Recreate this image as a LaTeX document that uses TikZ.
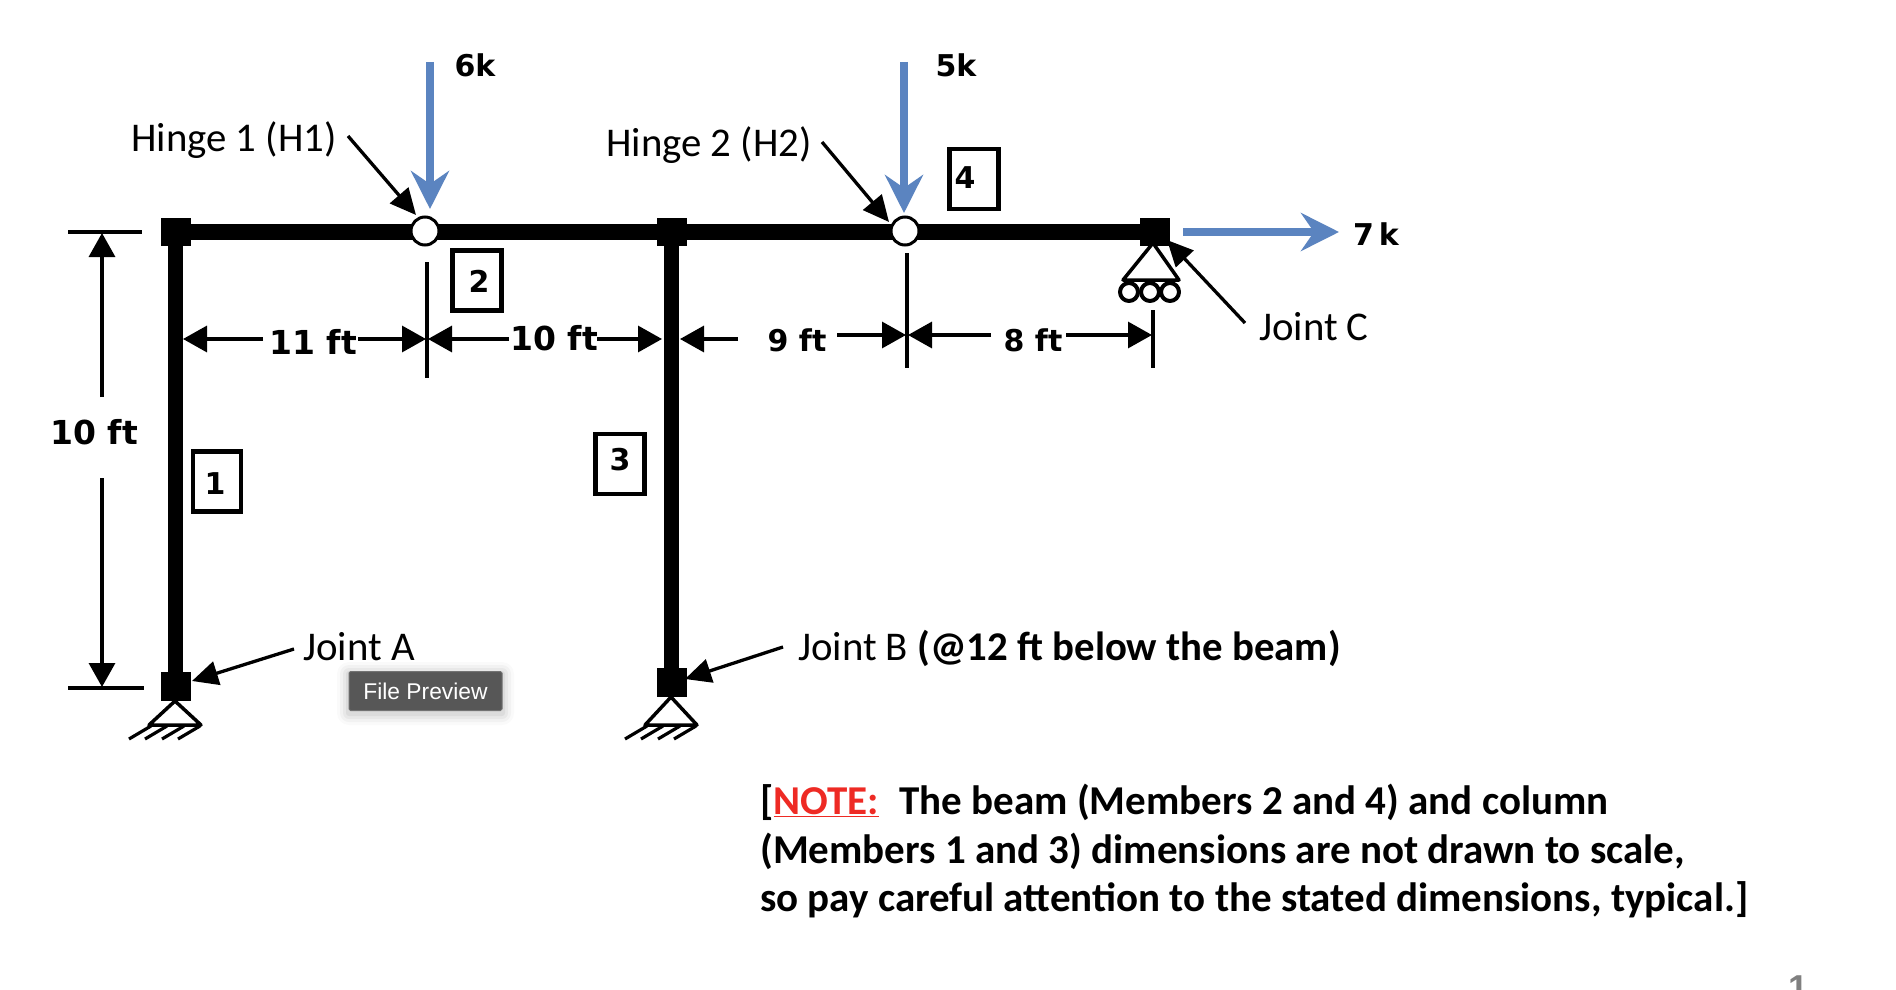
\documentclass[tikz,border=0pt]{standalone}
\usepackage{fontspec}
\setmainfont{Carlito}[Ligatures=TeX]
\newfontfamily\dimfont{DejaVu Sans}
\newfontfamily\tipfont{Liberation Sans}
\usetikzlibrary{arrows.meta,calc}
\definecolor{loadblue}{HTML}{5B84C0}
\definecolor{notered}{HTML}{EE2A24}
\newcommand{\fsz}[1]{\fontsize{#1}{#1}\selectfont}
\tikzset{
  member/.style={line width=15.5pt,draw=black},
  jointsq/.style={fill=black,inner sep=0pt,minimum width=30pt,minimum height=28.5pt,rectangle},
  hingec/.style={circle,draw=black,fill=white,line width=3pt,inner sep=0pt,minimum size=28pt},
  thin line/.style={draw=black,line width=3.3pt},
  dimarrow/.style={thin line,-{Triangle[length=24pt,width=26pt]}},
  ptr/.style={thin line,-{Triangle[length=26pt,width=24pt]}},
  load/.style={draw=loadblue,line width=8.5pt,-{Stealth[length=38pt,width=38pt,inset=13pt]}},
  memberbox/.style={rectangle,draw=black,line width=4.5pt,fill=white,inner sep=0pt},
  lbl/.style={inner sep=0pt,font=\fsz{40.8}},
  loadlbl/.style={inner sep=0pt,font=\dimfont\bfseries\fsz{30}},
  dimlbl/.style={inner sep=0pt,font=\dimfont\bfseries\fsz{33}},
  dimlblb/.style={inner sep=0pt,font=\dimfont\bfseries\fsz{30}},
  supp/.style={draw=black,line width=3.5pt,line join=round},
  notetxt/.style={inner sep=0pt,anchor=west,font=\bfseries\fsz{41}},
}
\begin{document}
\begin{tikzpicture}[x=1pt,y=-1pt]
\useasboundingbox (0,0) rectangle (1896,990);
\fill[white] (0,0) rectangle (1896,990);

% supports
\foreach \ax/\ay in {175/701,671/697}{
  \draw[supp] (\ax,\ay) -- (\ax-26,725) -- (\ax+26,725) -- cycle;
  \foreach \k in {-24,-8,9,25}{
    \draw[supp,line width=3.2pt] (\ax+\k,726) -- (\ax+\k-22,739);
  }
}
\draw[supp] (1153,243) -- (1123,280) -- (1179,280) -- cycle;
\foreach \cx in {1129,1150,1170}{ \draw[supp,line width=4pt,fill=white] (\cx,292) circle (9pt); }

% joints
\node[jointsq] (sqA1) at (175.5,232) {};
\node[jointsq] (sqB1) at (671.5,232) {};
\node[jointsq] (sqC)  at (1154.5,232) {};
\node[jointsq] (sqA2) at (175.5,686.5) {};
\node[jointsq] (sqB2) at (671.5,682.5) {};

% members
\draw[member] (sqA1.center) -- (sqC.center);
\draw[member] (sqA1.center) -- (sqA2.center);
\draw[member] (sqB1.center) -- (sqB2.center);

% hinges
\node[hingec] (h1) at (425,231) {};
\node[hingec] (h2) at (905,231) {};

% loads
\coordinate (la1) at (430,62);  \coordinate (la2) at (430,209);
\coordinate (lb1) at (904,62);  \coordinate (lb2) at (904,213);
\coordinate (lc1) at (1183,232);\coordinate (lc2) at (1339,232);
\draw[load] (la1) -- (la2);
\draw[load] (lb1) -- (lb2);
\draw[load] (lc1) -- (lc2);
\node[loadlbl] (t6k) at (475,65) {6k};
\node[loadlbl] (t5k) at (956,65) {5k};
\node[loadlbl] (t7k) at (1376,234) {7\,k};

% pointers with labels
\node[lbl] (lh1) at (234,140) {Hinge 1 (H1)};
\node[lbl] (lh2) at (709,145) {Hinge 2 (H2)};
\coordinate (p1) at (348,136); \coordinate (q1) at (416,215);
\coordinate (p2) at (822,142); \coordinate (q2) at (889,222);
\draw[ptr] (p1) -- (q1);
\draw[ptr] (p2) -- (q2);
\node[lbl] (ljc) at (1314,327) {Joint C};
\coordinate (p3) at (1245,323); \coordinate (q3) at (1167,240);
\draw[ptr] (p3) -- (q3);
\node[lbl] (lja) at (359,647) {Joint A};
\coordinate (p4) at (294,649); \coordinate (q4) at (192,681);
\draw[ptr] (p4) -- (q4);
\node[lbl,anchor=west] (ljb) at (798,648) {Joint B {\bfseries (@12 ft below the beam)}};
\coordinate (p5) at (783,647); \coordinate (q5) at (685,679);
\draw[ptr] (p5) -- (q5);

% member boxes
\node[memberbox,minimum width=48pt,minimum height=60pt] (m1) at (217,481.5) {};
\node[loadlbl] at (215,484) {1};
\node[memberbox,minimum width=49pt,minimum height=60pt] (m2) at (477,280.5) {};
\node[loadlbl] at (479,281) {2};
\node[memberbox,minimum width=49pt,minimum height=60pt] (m3) at (620,464) {};
\node[loadlbl] at (620,460) {3};
\node[memberbox,minimum width=49pt,minimum height=60pt] (m4) at (974,179) {};
\node[loadlbl] at (965,178) {4};

% vertical dimension
\coordinate (vt1) at (68,232);  \coordinate (vt2) at (142,232);
\coordinate (vb1) at (68,688);  \coordinate (vb2) at (144,688);
\draw[thin line] (vt1) -- (vt2);
\draw[thin line] (vb1) -- (vb2);
\coordinate (va1) at (102,397); \coordinate (va2) at (102,233);
\coordinate (va3) at (102,478); \coordinate (va4) at (102,687);
\draw[dimarrow] (va1) -- (va2);
\draw[dimarrow] (va3) -- (va4);
\node[dimlbl] (d10v) at (94,432) {10 ft};

% ticks
\coordinate (tk1a) at (427,262); \coordinate (tk1b) at (427,378);
\coordinate (tk2a) at (907,253); \coordinate (tk2b) at (907,368);
\coordinate (tk3a) at (1153,310);\coordinate (tk3b) at (1153,368);
\draw[thin line] (tk1a) -- (tk1b);
\draw[thin line] (tk2a) -- (tk2b);
\draw[thin line] (tk3a) -- (tk3b);

% horizontal dimensions
\node[dimlbl] (d11) at (313,342) {11 ft};
\node[dimlbl] (d10) at (554,338) {10 ft};
\node[dimlblb] (d9)  at (797,340) {9 ft};
\node[dimlblb] (d8)  at (1033,340) {8 ft};
\coordinate (a1) at (263,339); \coordinate (a1t) at (183,339);
\coordinate (a2) at (358,339); \coordinate (a2t) at (426,339);
\coordinate (a3) at (509,339); \coordinate (a3t) at (428,339);
\coordinate (a4) at (597,339); \coordinate (a4t) at (662,339);
\coordinate (a5) at (738,339); \coordinate (a5t) at (680,339);
\coordinate (a6) at (837,335); \coordinate (a6t) at (906,335);
\coordinate (a7) at (991,335); \coordinate (a7t) at (908,335);
\coordinate (a8) at (1066,335);\coordinate (a8t) at (1152,335);
\foreach \s/\e in {a1/a1t,a2/a2t,a3/a3t,a4/a4t,a5/a5t,a6/a6t,a7/a7t,a8/a8t}{
  \draw[dimarrow] (\s) -- (\e);
}

% note
\node[notetxt] (n1) at (760,802) {[{\color{notered}\underline{NOTE:}}\hspace{0.5em}The beam (Members 2 and 4) and column};
\node[notetxt] (n2) at (760,851) {(Members 1 and 3) dimensions are not drawn to scale,};
\node[notetxt] (n3) at (760,900) {so pay careful attention to the stated dimensions, typical.]};

% tooltip
\foreach \g/\o in {12/0.02,9/0.03,6/0.04,3/0.05}{
  \fill[black,opacity=\o,rounded corners=\g pt] (349-\g,671-\g+3) rectangle (502+\g,710+\g+3);
}
\node[rectangle,fill=black!66,draw=black!55,line width=1pt,inner sep=0pt,minimum width=153pt,minimum height=39pt,text=white,font=\tipfont\fsz{22.8},rounded corners=1.5pt] (tip) at (425.5,691) {File Preview};

% cut page number
\begin{scope}
\clip (0,0) rectangle (1896,990);
\node[inner sep=0pt,anchor=base,font=\tipfont\bfseries\fsz{36},text=black!50] (pg) at (1798,1000) {1};
\end{scope}
\end{tikzpicture}
\end{document}
